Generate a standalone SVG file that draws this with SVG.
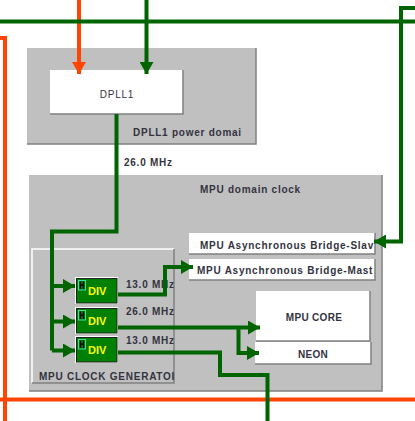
<svg xmlns="http://www.w3.org/2000/svg" width="415" height="421" viewBox="0 0 415 421">
<style>
.dom{fill:#c0c0c0;stroke:none}
.sh{fill:none;stroke:#808080;stroke-width:1.5}
.hl{fill:none;stroke:#ffffff;stroke-width:1.5}
.box{fill:#ffffff}
.t{font-family:"Liberation Sans",Arial,sans-serif;font-size:10px;font-weight:bold;fill:#333340;letter-spacing:0.75px}
.g{fill:none;stroke:#006400;stroke-width:4}
.o{fill:none;stroke:#ff4500;stroke-width:4}
.div{fill:#008000;stroke:#202020;stroke-width:1}
.ic{fill:#008000;stroke:#40e0a0;stroke-width:1}
.h{stroke:#000;stroke-width:1.3;fill:none}
.dt{font-family:"Liberation Sans",Arial,sans-serif;font-size:11px;font-weight:bold;fill:#ffff00}
</style>
<defs>
<marker id="ag" viewBox="0 0 12 14" refX="12" refY="7" markerWidth="12" markerHeight="14" markerUnits="userSpaceOnUse" orient="auto"><path d="M0,0 L12,7 L0,14 Z" fill="#006400"/></marker>
<marker id="ao" viewBox="0 0 12 14" refX="12" refY="7" markerWidth="12" markerHeight="14" markerUnits="userSpaceOnUse" orient="auto"><path d="M0,0 L12,7 L0,14 Z" fill="#ff4500"/></marker>
</defs>
<g id="dpll1-domain">
<rect class="dom" x="27" y="48" width="229" height="96"/>
<path class="sh" d="M256,48 V144 H27"/>
<text class="t" x="133" y="136">DPLL1 power domai</text>
</g>
<g id="dpll1">
<rect class="box" x="50" y="70" width="133" height="44"/>
<path class="sh" d="M183,70 V114 H50"/>
<text class="t" x="117" y="98" text-anchor="middle" style="font-weight:normal">DPLL1</text>
</g>
<g id="mpu-domain">
<rect class="dom" x="29" y="175" width="353" height="216"/>
<path class="sh" d="M382,175 V391 H29"/>
<text class="t" x="200" y="193">MPU domain clock</text>
</g>
<g id="clock-gen">
<path class="hl" d="M32,383 V249 H174"/>
<path class="sh" d="M174,249 V383 H32"/>
<text class="t" x="39" y="380">MPU CLOCK GENERATOI</text>
</g>
<g id="bridge-slave">
<rect class="box" x="189" y="233" width="186" height="21"/>
<path class="sh" d="M375,233 V254 H189"/>
<text class="t" x="200" y="249">MPU Asynchronous Bridge-Slav</text>
</g>
<g id="bridge-master">
<rect class="box" x="189" y="259" width="186" height="21"/>
<path class="sh" d="M375,259 V280 H189"/>
<text class="t" x="197" y="274">MPU Asynchronous Bridge-Mast</text>
</g>
<g id="mpu-core">
<rect class="box" x="256" y="291" width="114" height="50"/>
<path class="sh" d="M370,291 V341 H256"/>
<text class="t" x="314" y="321" text-anchor="middle" style="letter-spacing:0.3px">MPU CORE</text>
</g>
<g id="neon">
<rect class="box" x="255" y="342" width="116" height="22"/>
<path class="sh" d="M371,342 V364 H255"/>
<text class="t" x="313" y="358" text-anchor="middle" style="letter-spacing:0.3px">NEON</text>
</g>
<g id="div1">
<rect x="75" y="277" width="43" height="27" fill="#ffffff"/>
<rect class="div" x="76.5" y="278.5" width="40.5" height="24.5"/>
<rect class="ic" x="78.5" y="280.5" width="7" height="9.5"/>
<path class="h" d="M80.5,281.5 V289 M83.5,281.5 V289 M80.5,285.2 H83.5"/>
<text class="dt" x="88" y="295">DIV</text>
</g>
<g id="div2">
<rect x="75" y="307" width="43" height="27" fill="#ffffff"/>
<rect class="div" x="76.5" y="308.5" width="40.5" height="24.5"/>
<rect class="ic" x="78.5" y="310.5" width="7" height="9.5"/>
<path class="h" d="M80.5,311.5 V319 M83.5,311.5 V319 M80.5,315.2 H83.5"/>
<text class="dt" x="88" y="325">DIV</text>
</g>
<g id="div3">
<rect x="75" y="336" width="43" height="27" fill="#ffffff"/>
<rect class="div" x="76.5" y="337.5" width="40.5" height="24.5"/>
<rect class="ic" x="78.5" y="339.5" width="7" height="9.5"/>
<path class="h" d="M80.5,340.5 V348 M83.5,340.5 V348 M80.5,344.2 H83.5"/>
<text class="dt" x="88" y="354">DIV</text>
</g>
<g id="labels">
<text class="t" x="124" y="166">26.0 MHz</text>
<text class="t" x="126" y="288">13.0 MHz</text>
<text class="t" x="126" y="315">26.0 MHz</text>
<text class="t" x="126" y="344">13.0 MHz</text>
</g>
<g id="connectors">
<path class="o" d="M79,0 V74" marker-end="url(#ao)"/>
<path class="o" d="M0,38 H5 V421"/>
<path class="o" d="M0,399.5 H415"/>
<path class="g" d="M0,21.5 H415"/>
<path class="g" d="M146.5,0 V74" marker-end="url(#ag)"/>
<path class="g" d="M415,8 H401 V241.5 H374" marker-end="url(#ag)"/>
<path class="g" d="M116.5,114 V231.5 H52 V350.5"/>
<path class="g" d="M52,286 H75" marker-end="url(#ag)"/>
<path class="g" d="M52,321.5 H75" marker-end="url(#ag)"/>
<path class="g" d="M52,350.5 H75" marker-end="url(#ag)"/>
<path class="g" d="M118,294.5 H165 V267 H193" marker-end="url(#ag)"/>
<path class="g" d="M118,327.5 H260" marker-end="url(#ag)"/>
<path class="g" d="M238.5,327.5 V353 H259" marker-end="url(#ag)"/>
<path class="g" d="M118,352.5 H220 V375 H267.5 V421"/>
</g>
</svg>
